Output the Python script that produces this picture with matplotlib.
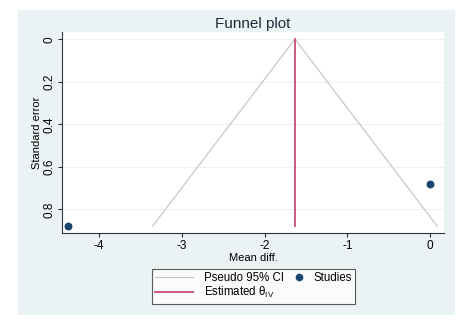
import matplotlib
matplotlib.use("Agg")
import matplotlib.pyplot as plt
from matplotlib.patches import Rectangle
from matplotlib.lines import Line2D
from matplotlib.legend_handler import HandlerBase

plt.rcParams['font.family'] = ['Liberation Sans', 'DejaVu Sans']

# Data
studies_md = [-4.38, 0.0]
studies_se = [0.879, 0.681]
theta_iv = -1.633
funnel_md = [-3.354, -1.633, 0.088]
funnel_se = [0.879, 0.0, 0.879]
xticks = [-4, -3, -2, -1, 0]
yticks = [0, 0.2, 0.4, 0.6, 0.8]
ytick_labels = ["0", "0.2", "0.4", "0.6", "0.8"]

panel_col = '#EAF2F3'
grid_col = '#EAF2F3'
navy = '#1A476F'
red = '#D05A7C'
ci_col = '#C8C8C8'

fig = plt.figure(figsize=(4.74, 3.29), dpi=100)
fig.patch.set_facecolor('white')
fig.patches.append(Rectangle((0.038, 0.043), 0.922, 0.927, transform=fig.transFigure,
                             facecolor=panel_col, edgecolor='none', zorder=-5))

ax = fig.add_axes([0.1308, 0.2918, 0.806, 0.611])
ax.set_facecolor('white')

ax.plot(funnel_md, funnel_se, color=ci_col, lw=0.9, label='Pseudo 95% CI', zorder=2)
ax.plot([theta_iv, theta_iv], [0, max(studies_se)], color=red, lw=1.4,
        label='Estimated θ$_{\\mathregular{IV}}$', zorder=3)
ax.scatter(studies_md, studies_se, s=22, color=navy, label='Studies', zorder=4)

ax.set_xlim(-4.45, 0.17)
ax.set_ylim(0.911, -0.034)
ax.set_xticks(xticks)
ax.set_xticklabels([str(t) if t >= 0 else '-' + str(abs(t)) for t in xticks])
ax.set_yticks(yticks)
ax.set_yticklabels(ytick_labels, rotation=90, va='center')
ax.grid(axis='y', color=grid_col, lw=0.8)
ax.set_axisbelow(True)
for s in ['top', 'right']:
    ax.spines[s].set_visible(False)
for s in ['left', 'bottom']:
    ax.spines[s].set_color('#333333')
    ax.spines[s].set_linewidth(0.8)
ax.tick_params(labelsize=8.5, length=3, color='#333333', pad=2)

ax.set_xlabel('Mean diff.', fontsize=8, labelpad=1)
ax.set_ylabel('Standard error', fontsize=8, labelpad=1)
ax.set_title('Funnel plot', fontsize=11, color='#1E2B3A', pad=3)


class RightMarker(HandlerBase):
    def create_artists(self, legend, orig_handle, xdescent, ydescent,
                       width, height, fontsize, trans):
        m = Line2D([width - 3], [height / 2 - ydescent], marker='o', ms=4.5,
                   color=navy, lw=0, transform=trans)
        return [m]


h, l = ax.get_legend_handles_labels()
leg = fig.legend(h, l, ncol=2, loc='center', bbox_to_anchor=(0.535, 0.13),
                 fontsize=8.3, frameon=True, fancybox=False, edgecolor='#333333',
                 handlelength=3.3, columnspacing=-1.6, labelspacing=0.1,
                 borderpad=0.3, handletextpad=0.9, borderaxespad=0,
                 handler_map={h[2]: RightMarker()})
leg.get_frame().set_linewidth(0.8)
leg.get_frame().set_facecolor('white')

fig.savefig('out.png', dpi=100)
